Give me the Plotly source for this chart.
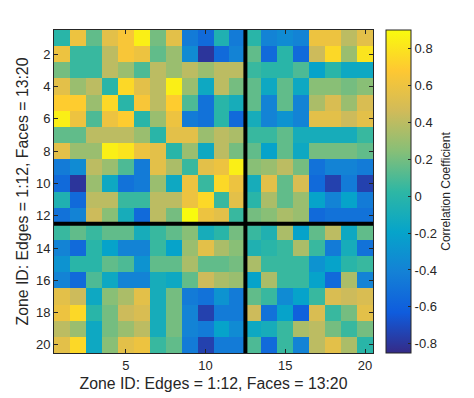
import plotly.graph_objects as go

# Zone IDs (Edges = 1:12, Faces = 13:20)
ZONES = list(range(1, 21))
N_EDGES = 12

# Correlation coefficients, row i = zone i (top to bottom), column j = zone j
R01 = [0.0, 0.6, 0.15, 0.55, 0.65, 0.85, 0.2, 0.55, -0.45, -0.55, -0.05, -0.45, 0.0, -0.4, -0.35, -0.4, 0.6, 0.6, 0.4, 0.55]
R02 = [0.6, 0.05, 0.05, 0.4, 0.65, 0.6, 0.15, 0.3, -0.35, -0.8, -0.55, -0.4, 0.15, -0.55, 0.0, -0.55, 0.45, 0.75, 0.3, 0.8]
R03 = [0.2, 0.05, 0.05, 0.4, 0.3, 0.1, 0.4, 0.3, 0.4, 0.3, 0.4, 0.4, 0.05, 0.0, 0.0, 0.1, -0.2, 0.0, -0.15, -0.15]
R04 = [0.55, 0.3, 0.4, 0.0, 0.75, 0.55, 0.4, 0.85, 0.3, -0.15, 0.4, 0.2, 0.15, -0.15, 0.15, -0.15, 0.25, 0.25, 0.2, 0.25]
R05 = [0.7, 0.7, 0.3, 0.75, 0.0, 0.65, 0.4, 0.7, 0.1, -0.5, 0.0, -0.1, 0.15, -0.4, 0.15, -0.4, 0.35, 0.5, 0.3, 0.5]
R06 = [0.85, 0.6, 0.1, 0.6, 0.7, 0.0, 0.3, 0.6, -0.45, -0.5, 0.0, -0.55, -0.1, -0.4, -0.3, -0.4, 0.55, 0.55, 0.45, 0.55]
R07 = [0.15, 0.15, 0.4, 0.4, 0.4, 0.3, 0.0, 0.55, 0.55, 0.3, 0.4, 0.35, 0.05, 0.05, 0.15, -0.1, -0.1, -0.1, -0.1, 0.05]
R08 = [0.55, 0.3, 0.3, 0.85, 0.8, 0.6, 0.55, 0.0, 0.3, -0.15, 0.4, 0.2, 0.15, -0.2, 0.15, -0.15, 0.2, 0.2, 0.2, 0.15]
R09 = [-0.45, -0.35, 0.4, 0.3, 0.1, -0.45, 0.55, 0.35, 0.05, 0.55, 0.6, 0.85, 0.25, 0.3, 0.4, 0.2, -0.5, -0.4, -0.4, -0.45]
R10 = [-0.55, -0.8, 0.3, -0.15, -0.5, -0.45, 0.3, -0.15, 0.6, 0.05, 0.75, 0.6, -0.1, 0.55, 0.15, 0.5, -0.55, -0.75, -0.45, -0.75]
R11 = [-0.05, -0.55, 0.4, 0.4, 0.05, 0.05, 0.4, 0.4, 0.6, 0.75, 0.05, 0.55, 0.0, 0.35, 0.15, 0.3, -0.2, -0.4, -0.2, -0.45]
R12 = [-0.5, -0.4, 0.45, 0.25, -0.1, -0.55, 0.4, 0.2, 0.9, 0.6, 0.55, 0.05, 0.2, 0.25, 0.35, 0.3, -0.55, -0.5, -0.5, -0.5]
R13 = [0.05, 0.15, 0.05, 0.15, 0.15, -0.1, 0.05, 0.15, 0.25, -0.1, 0.0, 0.2, 0.05, -0.05, 0.35, -0.2, 0.15, 0.4, -0.15, 0.15]
R14 = [-0.4, -0.55, 0.0, -0.2, -0.4, -0.4, 0.05, -0.2, 0.3, 0.55, 0.35, 0.25, -0.05, 0.0, 0.05, 0.35, 0.05, -0.45, -0.1, -0.5]
R15 = [-0.3, 0.0, 0.0, 0.15, 0.1, -0.3, 0.15, 0.15, 0.35, 0.15, 0.15, 0.2, 0.35, 0.05, 0.05, 0.05, -0.3, -0.2, 0.0, 0.05]
R16 = [-0.4, -0.55, 0.1, -0.15, -0.4, -0.4, -0.1, -0.15, 0.15, 0.45, 0.35, 0.3, -0.2, 0.35, 0.05, 0.05, -0.2, -0.55, 0.35, -0.4]
R17 = [0.55, 0.45, -0.15, 0.25, 0.35, 0.55, -0.1, 0.2, -0.45, -0.5, -0.3, -0.45, 0.15, 0.05, -0.35, -0.2, 0.05, 0.5, 0.45, 0.5]
R18 = [0.6, 0.75, 0.0, 0.2, 0.45, 0.5, -0.1, 0.2, -0.4, -0.75, -0.45, -0.45, 0.45, -0.5, -0.2, -0.6, 0.5, 0.05, 0.2, 0.55]
R19 = [0.4, 0.3, -0.15, 0.2, 0.3, 0.4, -0.1, 0.2, -0.4, -0.45, -0.2, -0.35, -0.15, -0.1, 0.05, 0.35, 0.4, 0.2, 0.05, 0.2]
R20 = [0.55, 0.75, -0.15, 0.25, 0.55, 0.6, 0.05, 0.15, -0.45, -0.75, -0.45, -0.45, 0.1, -0.55, 0.05, -0.4, 0.4, 0.55, 0.35, 0.0]

Z = [R01, R02, R03, R04, R05, R06, R07, R08, R09, R10,
     R11, R12, R13, R14, R15, R16, R17, R18, R19, R20]

X_TICKS = [5, 10, 15, 20]
Y_TICKS = [2, 4, 6, 8, 10, 12, 14, 16, 18, 20]
CB_TICKS = [-0.8, -0.6, -0.4, -0.2, 0, 0.2, 0.4, 0.6, 0.8]
CB_LABELS = ["-0.8", "-0.6", "-0.4", "-0.2", "0", "0.2", "0.4", "0.6", "0.8"]

PARULA = [
    [0.0, "#352a87"], [0.125, "#0f5cdd"], [0.25, "#1481d6"], [0.375, "#06a4ca"],
    [0.5, "#2eb7a4"], [0.625, "#87bf77"], [0.75, "#d1bb59"], [0.875, "#fec832"],
    [1.0, "#f9fb0e"],
]

FONT = "Liberation Sans, Arial, sans-serif"
TXT = "#262626"
AXIS_TITLE = "Zone ID: Edges = 1:12, Faces = 13:20"

fig = go.Figure()
fig.add_trace(go.Heatmap(
    z=Z, x=ZONES, y=ZONES,
    colorscale=PARULA, zmin=-0.85, zmax=0.9,
    xgap=0, ygap=0,
    colorbar=dict(
        thicknessmode="pixels", thickness=25,
        lenmode="fraction", len=1.0, y=0.5, yanchor="middle",
        x=1.041, xanchor="left", xpad=0, ypad=0,
        outlinewidth=1, outlinecolor=TXT,
        tickmode="array", tickvals=CB_TICKS, ticktext=CB_LABELS,
        ticks="inside", ticklen=3, tickcolor=TXT,
        tickfont=dict(family=FONT, size=13, color=TXT),
        title=dict(text="Correlation Coefficient", side="right",
                   font=dict(family=FONT, size=12, color=TXT)),
    ),
))

b = N_EDGES + 0.5
lo, hi = ZONES[0] - 0.5, ZONES[-1] + 0.5
fig.add_shape(type="line", xref="x", yref="y", x0=b, x1=b, y0=lo, y1=hi,
              line=dict(color="black", width=4))
fig.add_shape(type="line", xref="x", yref="y", x0=lo, x1=hi, y0=b, y1=b,
              line=dict(color="black", width=4))

axis_common = dict(
    showline=True, linecolor=TXT, linewidth=1, mirror="ticks",
    ticks="inside", ticklen=4, tickcolor=TXT,
    showgrid=False, zeroline=False, automargin=False,
    tickfont=dict(family=FONT, size=13, color=TXT),
)
fig.update_xaxes(range=[lo, hi], tickmode="array", tickvals=X_TICKS,
                 title=dict(text=AXIS_TITLE, standoff=6,
                            font=dict(family=FONT, size=15.8, color=TXT)),
                 **axis_common)
fig.update_yaxes(range=[hi, lo], tickmode="array", tickvals=Y_TICKS,
                 title=dict(text=AXIS_TITLE, standoff=3,
                            font=dict(family=FONT, size=15.8, color=TXT)),
                 **axis_common)

# page body has an 8px margin; size the figure so the plot lands at the same spot
fig.update_layout(
    width=466, height=390,
    margin=dict(l=46, r=101, t=22, b=45, pad=0),
    paper_bgcolor="white", plot_bgcolor="white",
    font=dict(family=FONT, color=TXT),
)

fig.write_html("out.html")
